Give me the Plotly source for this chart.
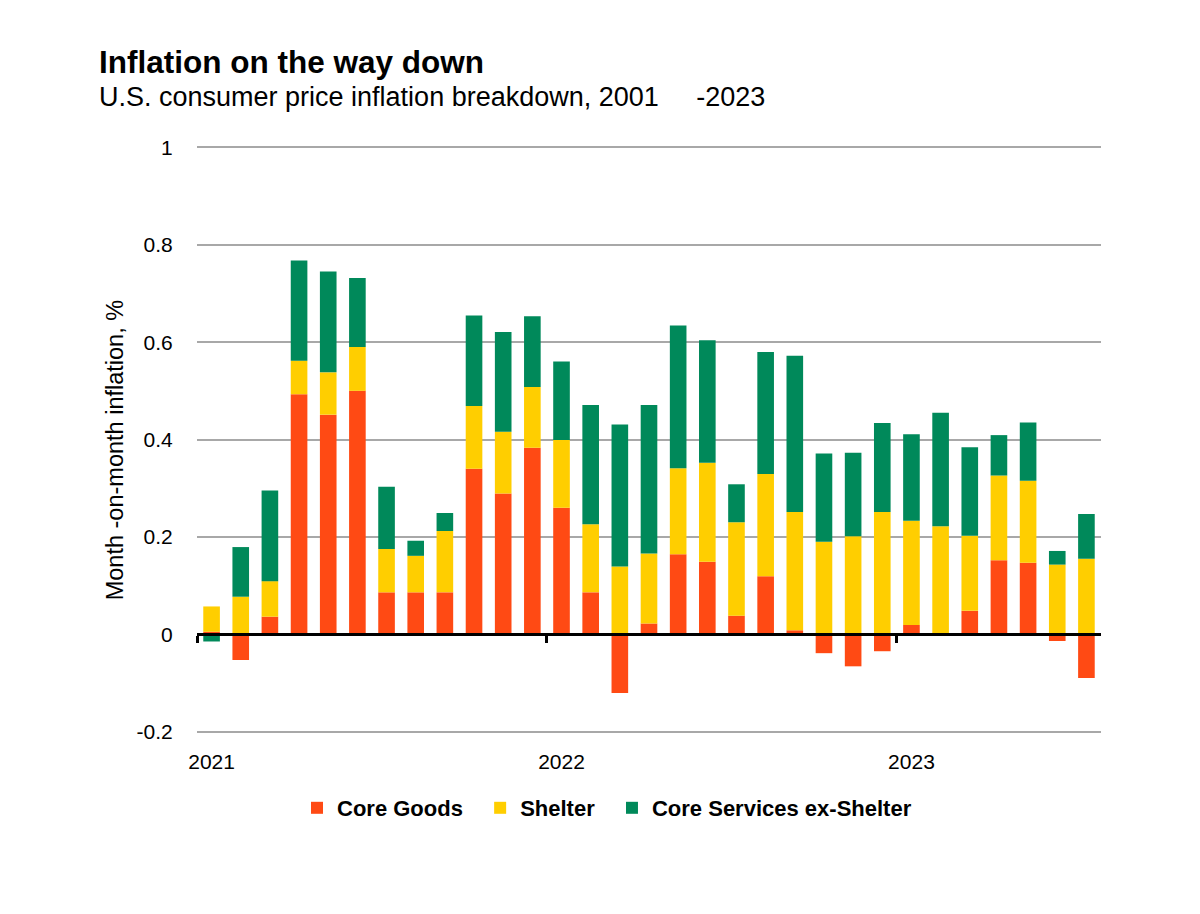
import plotly.graph_objects as go

# ---- data ----
months = [
    "2021-01", "2021-02", "2021-03", "2021-04", "2021-05", "2021-06",
    "2021-07", "2021-08", "2021-09", "2021-10", "2021-11", "2021-12",
    "2022-01", "2022-02", "2022-03", "2022-04", "2022-05", "2022-06",
    "2022-07", "2022-08", "2022-09", "2022-10", "2022-11", "2022-12",
    "2023-01", "2023-02", "2023-03", "2023-04", "2023-05", "2023-06",
    "2023-07",
]
core_goods = [
    0.005, -0.053, 0.036, 0.493, 0.451, 0.500,
    0.086, 0.086, 0.086, 0.340, 0.289, 0.383,
    0.260, 0.086, -0.121, 0.022, 0.164, 0.149,
    0.038, 0.119, 0.008, -0.039, -0.066, -0.035,
    0.019, -0.003, 0.048, 0.152, 0.147, -0.014,
    -0.090,
]
shelter = [
    0.052, 0.077, 0.073, 0.069, 0.087, 0.090,
    0.089, 0.075, 0.126, 0.129, 0.127, 0.125,
    0.139, 0.140, 0.139, 0.144, 0.177, 0.203,
    0.192, 0.210, 0.243, 0.190, 0.201, 0.251,
    0.214, 0.222, 0.154, 0.174, 0.168, 0.143,
    0.155,
]
services_ex_shelter = [
    -0.015, 0.102, 0.186, 0.206, 0.207, 0.142,
    0.128, 0.031, 0.037, 0.186, 0.205, 0.145,
    0.161, 0.245, 0.292, 0.305, 0.293, 0.252,
    0.078, 0.251, 0.321, 0.181, 0.172, 0.183,
    0.178, 0.233, 0.182, 0.083, 0.120, 0.028,
    0.092,
]
year_labels = ["2021", "2022", "2023"]
y_tick_vals = [-0.2, 0, 0.2, 0.4, 0.6, 0.8, 1.0]
y_tick_text = ["-0.2", "0", "0.2", "0.4", "0.6", "0.8", "1"]

series_names = ["Core Goods", "Shelter", "Core Services ex-Shelter"]
series_colors = ["#FF4A14", "#FFCE00", "#00895A"]

# ---- derived positions ----
x = list(range(len(months)))
jan_idx = [i for i, m in enumerate(months) if m.endswith("-01")]
boundary_ticks = [i - 0.5 for i in jan_idx]
x_range = [-0.5, len(months) - 0.5]

FONT = "Liberation Sans, Arial, sans-serif"
W, H = 1200, 914
PAGE_OFF = 8            # browser body margin
PX_PER_UNIT = 487.0     # pixels per 1.0 on y
Y0_SCREEN = 634.0       # screen y of value 0
PAD = 0.003
y_range = [-0.2 - PAD, 1.0 + PAD]

plot_top = Y0_SCREEN - y_range[1] * PX_PER_UNIT - PAGE_OFF
plot_bot = Y0_SCREEN - y_range[0] * PX_PER_UNIT - PAGE_OFF
plot_left = 197 - PAGE_OFF
plot_right = 1101 - PAGE_OFF
plot_h = plot_bot - plot_top
plot_w = plot_right - plot_left


def px(xs):
    return (xs - PAGE_OFF - plot_left) / plot_w


def py(ys):
    return (plot_bot - (ys - PAGE_OFF)) / plot_h


zero_pos = (0 - y_range[0]) / (y_range[1] - y_range[0])

fig = go.Figure()
for name, vals, col in zip(series_names, [core_goods, shelter, services_ex_shelter], series_colors):
    label = f"<b>{name}</b>" + ("\u00a0\u00a0" if name != series_names[-1] else "")
    fig.add_trace(go.Bar(
        x=x, y=vals, name=label,
        marker=dict(color=col, line=dict(width=0)),
    ))

# dummy trace to activate the zero-line axis carrying the tick marks
fig.add_trace(go.Scatter(x=[None], y=[None], xaxis="x2", showlegend=False,
                         hoverinfo="skip", mode="markers"))

fig.update_layout(
    width=W, height=H,
    margin=dict(l=plot_left, r=W - plot_right, t=plot_top, b=H - plot_bot, autoexpand=False),
    paper_bgcolor="white", plot_bgcolor="white",
    barmode="relative", bargap=0.43,
    font=dict(family=FONT, color="black"),
    xaxis=dict(
        range=x_range, tickmode="array", tickvals=jan_idx, ticktext=year_labels,
        showgrid=False, zeroline=False, showline=False,
        ticks="outside", ticklen=10, tickcolor="rgba(0,0,0,0)",
        tickfont=dict(size=21, family=FONT, color="black"),
    ),
    xaxis2=dict(
        overlaying="x", anchor="free", position=zero_pos, range=x_range,
        tickmode="array", tickvals=boundary_ticks, showticklabels=False,
        ticks="outside", ticklen=7, tickwidth=3, tickcolor="black",
        showline=True, linecolor="black", linewidth=3,
        showgrid=False, zeroline=False, layer="above traces",
    ),
    yaxis=dict(
        range=y_range, tickmode="array", tickvals=y_tick_vals, ticktext=y_tick_text,
        showgrid=True, gridcolor="#A8A8A8", gridwidth=1.5,
        zeroline=False, showline=False,
        ticks="outside", ticklen=19, tickcolor="rgba(0,0,0,0)",
        tickfont=dict(size=21, family=FONT, color="black"),
    ),
    showlegend=True,
    legend=dict(
        orientation="h", traceorder="normal",
        xref="container", yref="container",
        x=(607 - PAGE_OFF) / W, xanchor="center",
        y=(H - (808 - PAGE_OFF)) / H, yanchor="middle",
        font=dict(size=22, family=FONT, color="black"),
        bgcolor="rgba(0,0,0,0)", itemclick=False,
    ),
    annotations=[
        dict(text="<b>Inflation on the way down</b>", xref="paper", yref="paper",
             x=px(97), y=py(61), xanchor="left", yanchor="middle",
             showarrow=False, font=dict(size=31.5, family=FONT, color="black")),
        dict(text="U.S. consumer price inflation breakdown, 2001\u00a0\u00a0\u00a0\u00a0\u00a0-2023",
             xref="paper", yref="paper",
             x=px(97), y=py(97), xanchor="left", yanchor="middle",
             showarrow=False, font=dict(size=27, family=FONT, color="black")),
        dict(text="Month -on-month inflation, %", xref="paper", yref="paper",
             x=px(115), y=py(450), xanchor="center", yanchor="middle",
             textangle=-90, showarrow=False, font=dict(size=23.5, family=FONT, color="black")),
    ],
)

fig.write_html("out.html")
